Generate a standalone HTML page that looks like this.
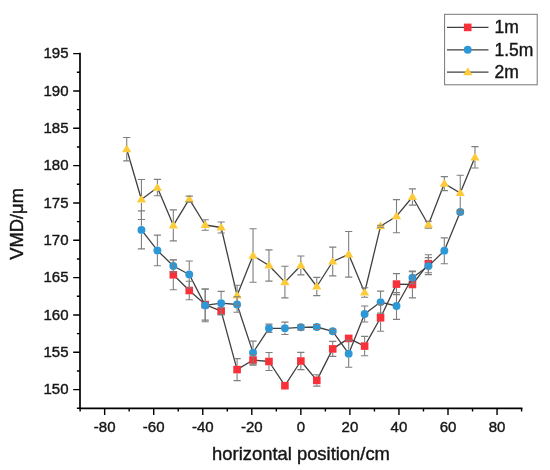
<!DOCTYPE html>
<html><head><meta charset="utf-8"><title>VMD chart</title>
<style>html,body{margin:0;padding:0;background:#fff;width:550px;height:470px;overflow:hidden}
svg{display:block;font-family:"Liberation Sans",Arial,sans-serif}
text{stroke:#161616;stroke-width:0.4px;fill:#161616}</style></head>
<body>
<svg width="550" height="470" viewBox="0 0 550 470">
<rect width="550" height="470" fill="#fff"/>
<path fill="none" stroke="#000" stroke-width="1.7" stroke-linecap="square" d="M80 53.6V408.3H521.58"/>
<path fill="none" stroke="#000" stroke-width="1.4" d="M73.2 389.62H80M73.2 352.28H80M73.2 314.94H80M73.2 277.61H80M73.2 240.27H80M73.2 202.94H80M73.2 165.6H80M73.2 128.27H80M73.2 90.94H80M73.2 53.6H80M76.9 408.28H80M76.9 370.95H80M76.9 333.61H80M76.9 296.28H80M76.9 258.94H80M76.9 221.61H80M76.9 184.27H80M76.9 146.94H80M76.9 109.6H80M76.9 72.27H80M104.65 408.3V414.9M153.7 408.3V414.9M202.75 408.3V414.9M251.8 408.3V414.9M300.85 408.3V414.9M349.9 408.3V414.9M398.95 408.3V414.9M448 408.3V414.9M497.05 408.3V414.9M80.12 408.3V411.6M129.18 408.3V411.6M178.23 408.3V411.6M227.28 408.3V411.6M276.33 408.3V411.6M325.38 408.3V411.6M374.43 408.3V411.6M423.48 408.3V411.6M472.53 408.3V411.6M521.58 408.3V411.6"/>
<polyline fill="none" stroke="#404040" stroke-width="1.3" stroke-linejoin="round" points="173.32,274.8 189.26,290.5 205.2,304.6 221.14,311.1 237.09,369.6 253.03,360 268.97,361.5 284.91,385.7 300.85,361 316.79,380.4 332.73,348.9 348.67,338.4 364.62,346.1 380.56,317.8 396.5,284.1 412.44,284.5 428.38,263.7"/>
<g fill="#F8303A"><rect x="169.52" y="271" width="7.6" height="7.6"/><rect x="185.46" y="286.7" width="7.6" height="7.6"/><rect x="201.4" y="300.8" width="7.6" height="7.6"/><rect x="217.34" y="307.3" width="7.6" height="7.6"/><rect x="233.29" y="365.8" width="7.6" height="7.6"/><rect x="249.23" y="356.2" width="7.6" height="7.6"/><rect x="265.17" y="357.7" width="7.6" height="7.6"/><rect x="281.11" y="381.9" width="7.6" height="7.6"/><rect x="297.05" y="357.2" width="7.6" height="7.6"/><rect x="312.99" y="376.6" width="7.6" height="7.6"/><rect x="328.93" y="345.1" width="7.6" height="7.6"/><rect x="344.87" y="334.6" width="7.6" height="7.6"/><rect x="360.81" y="342.3" width="7.6" height="7.6"/><rect x="376.76" y="314" width="7.6" height="7.6"/><rect x="392.7" y="280.3" width="7.6" height="7.6"/><rect x="408.64" y="280.7" width="7.6" height="7.6"/><rect x="424.58" y="259.9" width="7.6" height="7.6"/></g>
<polyline fill="none" stroke="#404040" stroke-width="1.3" stroke-linejoin="round" points="141.44,229.9 157.38,250.45 173.32,266 189.26,274.5 205.2,305.4 221.14,303.2 237.09,304.5 253.03,352.6 268.97,328.3 284.91,328.3 300.85,327.3 316.79,327 332.73,331.3 348.67,353.7 364.62,314 380.56,302.1 396.5,306 412.44,277.8 428.38,266.1 444.32,250.8 460.26,212"/>
<g fill="#2E98D6"><circle cx="141.44" cy="229.9" r="3.95"/><circle cx="157.38" cy="250.45" r="3.95"/><circle cx="173.32" cy="266" r="3.95"/><circle cx="189.26" cy="274.5" r="3.95"/><circle cx="205.2" cy="305.4" r="3.95"/><circle cx="221.14" cy="303.2" r="3.95"/><circle cx="237.09" cy="304.5" r="3.95"/><circle cx="253.03" cy="352.6" r="3.95"/><circle cx="268.97" cy="328.3" r="3.95"/><circle cx="284.91" cy="328.3" r="3.95"/><circle cx="300.85" cy="327.3" r="3.95"/><circle cx="316.79" cy="327" r="3.95"/><circle cx="332.73" cy="331.3" r="3.95"/><circle cx="348.67" cy="353.7" r="3.95"/><circle cx="364.62" cy="314" r="3.95"/><circle cx="380.56" cy="302.1" r="3.95"/><circle cx="396.5" cy="306" r="3.95"/><circle cx="412.44" cy="277.8" r="3.95"/><circle cx="428.38" cy="266.1" r="3.95"/><circle cx="444.32" cy="250.8" r="3.95"/><circle cx="460.26" cy="212" r="3.95"/></g>
<polyline fill="none" stroke="#404040" stroke-width="1.3" stroke-linejoin="round" points="126.72,149.2 141.44,199.5 157.38,187.6 173.32,225.35 189.26,199.1 205.2,225 221.14,227.5 237.09,295.5 253.03,255.55 268.97,265.5 284.91,282.1 300.85,265.45 316.79,286.5 332.73,261.5 348.67,254.3 364.62,292.5 380.56,226.2 396.5,216.2 412.44,197 428.38,224.7 444.32,183.6 460.26,193 474.98,157.3"/>
<g fill="#FDCB3A"><path d="M126.72 144.3L131.32 152.3L122.12 152.3Z"/><path d="M141.44 194.6L146.04 202.6L136.84 202.6Z"/><path d="M157.38 182.7L161.98 190.7L152.78 190.7Z"/><path d="M173.32 220.45L177.92 228.45L168.72 228.45Z"/><path d="M189.26 194.2L193.86 202.2L184.66 202.2Z"/><path d="M205.2 220.1L209.8 228.1L200.6 228.1Z"/><path d="M221.14 222.6L225.74 230.6L216.54 230.6Z"/><path d="M237.09 290.6L241.69 298.6L232.49 298.6Z"/><path d="M253.03 250.65L257.63 258.65L248.43 258.65Z"/><path d="M268.97 260.6L273.57 268.6L264.37 268.6Z"/><path d="M284.91 277.2L289.51 285.2L280.31 285.2Z"/><path d="M300.85 260.55L305.45 268.55L296.25 268.55Z"/><path d="M316.79 281.6L321.39 289.6L312.19 289.6Z"/><path d="M332.73 256.6L337.33 264.6L328.13 264.6Z"/><path d="M348.67 249.4L353.27 257.4L344.07 257.4Z"/><path d="M364.62 287.6L369.22 295.6L360.01 295.6Z"/><path d="M380.56 221.3L385.16 229.3L375.96 229.3Z"/><path d="M396.5 211.3L401.1 219.3L391.9 219.3Z"/><path d="M412.44 192.1L417.04 200.1L407.84 200.1Z"/><path d="M428.38 219.8L432.98 227.8L423.78 227.8Z"/><path d="M444.32 178.7L448.92 186.7L439.72 186.7Z"/><path d="M460.26 188.1L464.86 196.1L455.66 196.1Z"/><path d="M474.98 152.4L479.58 160.4L470.38 160.4Z"/></g>
<path fill="none" stroke="#7f7f7f" stroke-width="1.1" d="M173.32 259.8V271M173.32 278.6V289.8M169.72 259.8H176.92M169.72 289.8H176.92M189.26 281.3V286.7M189.26 294.3V299.7M185.66 281.3H192.86M185.66 299.7H192.86M205.2 289.1V300.8M205.2 308.4V320.1M201.6 289.1H208.8M201.6 320.1H208.8M217.54 307.7H224.74M217.54 314.5H224.74M237.09 358.6V365.8M237.09 373.4V380.6M233.49 358.6H240.69M233.49 380.6H240.69M253.03 354.7V356.2M253.03 363.8V365.3M249.43 354.7H256.63M249.43 365.3H256.63M268.97 352.5V357.7M268.97 365.3V370.5M265.37 352.5H272.57M265.37 370.5H272.57M300.85 352.4V357.2M300.85 364.8V369.6M297.25 352.4H304.45M297.25 369.6H304.45M316.79 374.7V376.6M316.79 384.2V386.1M313.19 374.7H320.39M313.19 386.1H320.39M332.73 341.4V345.1M332.73 352.7V356.4M329.13 341.4H336.33M329.13 356.4H336.33M364.62 336.4V342.3M364.62 349.9V355.8M361.01 336.4H368.22M361.01 355.8H368.22M380.56 304.4V314M380.56 321.6V331.2M376.96 304.4H384.16M376.96 331.2H384.16M396.5 273.6V280.3M396.5 287.9V294.6M392.9 273.6H400.1M392.9 294.6H400.1M412.44 271.1V280.7M412.44 288.3V297.9M408.84 271.1H416.04M408.84 297.9H416.04M428.38 254.7V259.9M428.38 267.5V272.7M424.78 254.7H431.98M424.78 272.7H431.98"/><path fill="none" stroke="#7f7f7f" stroke-width="1.1" d="M141.44 210.9V225.8M141.44 234V248.9M137.84 210.9H145.04M137.84 248.9H145.04M157.38 235.15V246.35M157.38 254.55V265.75M153.78 235.15H160.98M153.78 265.75H160.98M173.32 260V261.9M173.32 270.1V272M169.72 260H176.92M169.72 272H176.92M189.26 261V270.4M189.26 278.6V288M185.66 261H192.86M185.66 288H192.86M205.2 289V301.3M205.2 309.5V321.8M201.6 289H208.8M201.6 321.8H208.8M221.14 291.4V299.1M221.14 307.3V315M217.54 291.4H224.74M217.54 315H224.74M237.09 296.7V300.4M237.09 308.6V312.3M233.49 296.7H240.69M233.49 312.3H240.69M253.03 341.1V348.5M253.03 356.7V364.1M249.43 341.1H256.63M249.43 364.1H256.63M268.97 324.1V324.2M268.97 332.4V332.5M265.37 324.1H272.57M265.37 332.5H272.57M284.91 322.1V324.2M284.91 332.4V334.5M281.31 322.1H288.51M281.31 334.5H288.51M297.25 324.7H304.45M297.25 329.9H304.45M313.19 324.5H320.39M313.19 329.5H320.39M329.13 329.3H336.33M329.13 333.3H336.33M348.67 340.2V349.6M348.67 357.8V367.2M345.07 340.2H352.27M345.07 367.2H352.27M364.62 306V309.9M364.62 318.1V322M361.01 306H368.22M361.01 322H368.22M380.56 291.1V298M380.56 306.2V313.1M376.96 291.1H384.16M376.96 313.1H384.16M396.5 292.6V301.9M396.5 310.1V319.4M392.9 292.6H400.1M392.9 319.4H400.1M412.44 271.8V273.7M412.44 281.9V283.8M408.84 271.8H416.04M408.84 283.8H416.04M428.38 257.6V262M428.38 270.2V274.6M424.78 257.6H431.98M424.78 274.6H431.98M444.32 237.9V246.7M444.32 254.9V263.7M440.72 237.9H447.92M440.72 263.7H447.92M456.66 210H463.86M456.66 214H463.86"/><path fill="none" stroke="#7f7f7f" stroke-width="1.1" d="M126.72 137.5V145.7M126.72 152.7V160.9M123.12 137.5H130.32M123.12 160.9H130.32M141.44 179.5V196M141.44 203V219.5M137.84 179.5H145.04M137.84 219.5H145.04M157.38 179.4V184.1M157.38 191.1V195.8M153.78 179.4H160.98M153.78 195.8H160.98M173.32 209.85V221.85M173.32 228.85V240.85M169.72 209.85H176.92M169.72 240.85H176.92M185.66 196.1H192.86M185.66 202.1H192.86M205.2 219.7V221.5M205.2 228.5V230.3M201.6 219.7H208.8M201.6 230.3H208.8M221.14 222V224M221.14 231V233M217.54 222H224.74M217.54 233H224.74M237.09 285.3V292M237.09 299V305.7M233.49 285.3H240.69M233.49 305.7H240.69M253.03 228.8V252.05M253.03 259.05V282.3M249.43 228.8H256.63M249.43 282.3H256.63M268.97 249.9V262M268.97 269V281.1M265.37 249.9H272.57M265.37 281.1H272.57M284.91 266.3V278.6M284.91 285.6V297.9M281.31 266.3H288.51M281.31 297.9H288.51M300.85 256V261.95M300.85 268.95V274.9M297.25 256H304.45M297.25 274.9H304.45M316.79 277.4V283M316.79 290V295.6M313.19 277.4H320.39M313.19 295.6H320.39M332.73 247.1V258M332.73 265V275.9M329.13 247.1H336.33M329.13 275.9H336.33M348.67 231.5V250.8M348.67 257.8V277.1M345.07 231.5H352.27M345.07 277.1H352.27M364.62 287.75V289M364.62 296V297.25M361.01 287.75H368.22M361.01 297.25H368.22M376.96 225.2H384.16M376.96 227.2H384.16M396.5 199.6V212.7M396.5 219.7V232.8M392.9 199.6H400.1M392.9 232.8H400.1M412.44 188.9V193.5M412.44 200.5V205.1M408.84 188.9H416.04M408.84 205.1H416.04M424.78 221.2H431.98M424.78 228.2H431.98M444.32 176.6V180.1M444.32 187.1V190.6M440.72 176.6H447.92M440.72 190.6H447.92M460.26 175.3V189.5M460.26 196.5V210.7M456.66 175.3H463.86M456.66 210.7H463.86M474.98 146.6V153.8M474.98 160.8V168M471.38 146.6H478.58M471.38 168H478.58"/>
<g font-size="15.0" fill="#111"><text x="68.5" y="394.22" text-anchor="end">150</text><text x="68.5" y="356.88" text-anchor="end">155</text><text x="68.5" y="319.55" text-anchor="end">160</text><text x="68.5" y="282.21" text-anchor="end">165</text><text x="68.5" y="244.87" text-anchor="end">170</text><text x="68.5" y="207.54" text-anchor="end">175</text><text x="68.5" y="170.2" text-anchor="end">180</text><text x="68.5" y="132.87" text-anchor="end">185</text><text x="68.5" y="95.53" text-anchor="end">190</text><text x="68.5" y="58.2" text-anchor="end">195</text><text x="104.65" y="431.8" text-anchor="middle">-80</text><text x="153.7" y="431.8" text-anchor="middle">-60</text><text x="202.75" y="431.8" text-anchor="middle">-40</text><text x="251.8" y="431.8" text-anchor="middle">-20</text><text x="300.85" y="431.8" text-anchor="middle">0</text><text x="349.9" y="431.8" text-anchor="middle">20</text><text x="398.95" y="431.8" text-anchor="middle">40</text><text x="448" y="431.8" text-anchor="middle">60</text><text x="497.05" y="431.8" text-anchor="middle">80</text></g>
<text x="301" y="460" font-size="18.4" text-anchor="middle" fill="#111">horizontal position/cm</text>
<text transform="translate(23 223.9) rotate(-90)" font-size="18.4" text-anchor="middle" fill="#111">VMD/μm</text>
<rect x="444.6" y="14.3" width="92.6" height="70.5" fill="#fff" stroke="#777" stroke-width="1"/>
<path fill="none" stroke="#404040" stroke-width="1.3" d="M447 27.4H488.5M447 49.8H488.5M447 72.2H488.5"/>
<rect x="463.9" y="23.6" width="7.6" height="7.6" fill="#F8303A"/>
<circle cx="467.7" cy="49.8" r="3.95" fill="#2E98D6"/>
<path d="M467.8 67.3L472.4 75.3L463.2 75.3Z" fill="#FDCB3A"/>
<g font-size="17.5"><text x="494.5" y="33.3">1m</text><text x="494.5" y="55.7">1.5m</text><text x="494.5" y="78.1">2m</text></g>
</svg>
</body></html>
